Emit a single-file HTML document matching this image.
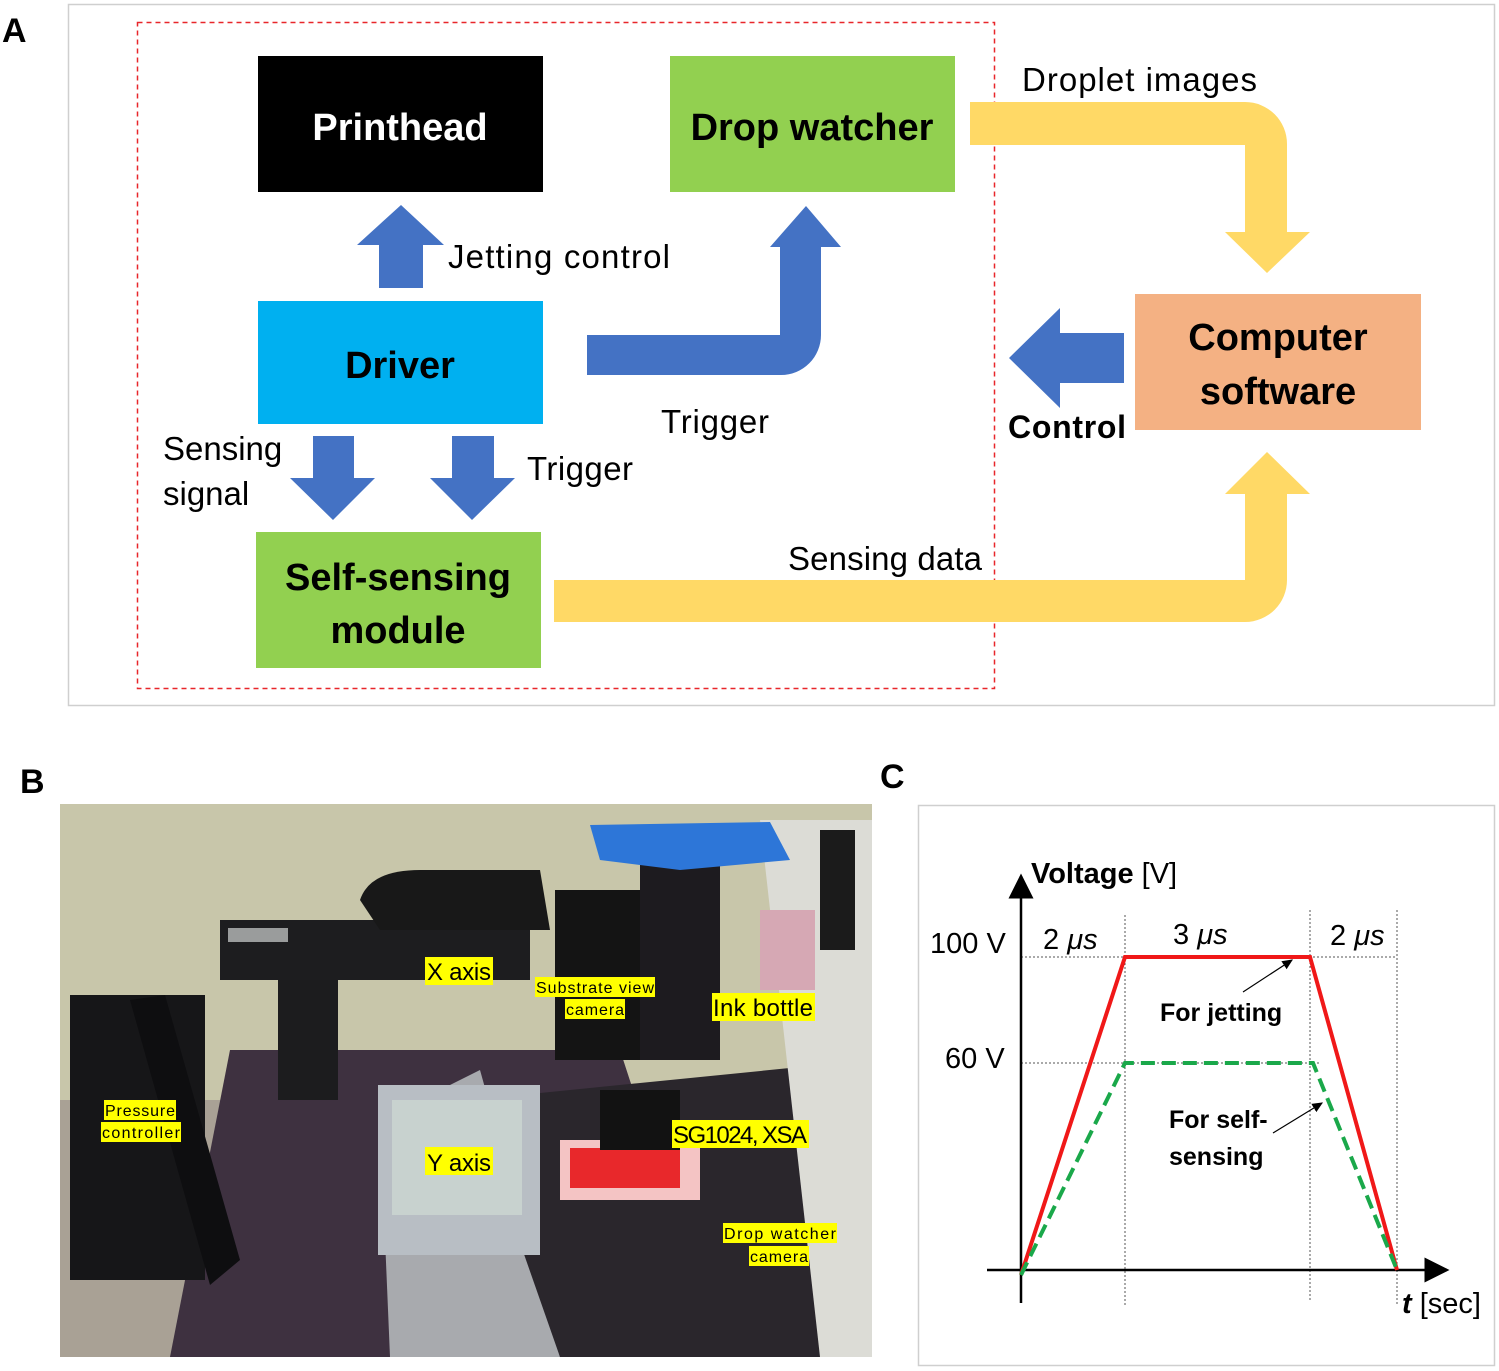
<!DOCTYPE html>
<html><head><meta charset="utf-8"><style>
html,body{margin:0;padding:0;background:#fff}
svg{display:block}
text{font-family:"Liberation Sans",sans-serif}
</style></head><body>
<svg width="1499" height="1371" viewBox="0 0 1499 1371" xmlns="http://www.w3.org/2000/svg">
<defs>
<marker id="ah" markerWidth="10" markerHeight="10" refX="8" refY="5" orient="auto"><path d="M0,1 L9,5 L0,9 z" fill="#000"/></marker>
<marker id="ah2" markerWidth="10" markerHeight="10" refX="9" refY="5" orient="auto"><path d="M0,0 L10,5 L0,10 z" fill="#000"/></marker>
</defs>
<text x="2" y="42" font-size="34" font-weight="bold">A</text>
<rect x="68.5" y="4.5" width="1426" height="701" fill="#fff" stroke="#cfcfcf" stroke-width="1.5"/>
<rect x="137.5" y="22.5" width="857" height="666" fill="none" stroke="#e8262a" stroke-width="1.5" stroke-dasharray="5,4"/>

<path d="M970,102 H1245 A42,42 0 0 1 1287,144 V232 H1310 L1267,273 L1225,232 H1245 V145 H970 Z" fill="#ffd966"/>
<path d="M554,580 H1245 V494 H1225 L1267,452 L1310,494 H1287 V580 A42,42 0 0 1 1245,622 H554 Z" fill="#ffd966"/>

<rect x="258" y="56" width="285" height="136" fill="#000"/>
<text x="400" y="140" font-size="38" font-weight="bold" fill="#fff" text-anchor="middle">Printhead</text>
<rect x="670" y="56" width="285" height="136" fill="#92d050"/>
<text x="812" y="140" font-size="38" font-weight="bold" text-anchor="middle">Drop watcher</text>
<rect x="258" y="301" width="285" height="123" fill="#00b0f0"/>
<text x="400" y="378" font-size="38" font-weight="bold" text-anchor="middle">Driver</text>
<rect x="256" y="532" width="285" height="136" fill="#92d050"/>
<text x="398" y="590" font-size="38" font-weight="bold" text-anchor="middle">Self-sensing</text>
<text x="398" y="643" font-size="38" font-weight="bold" text-anchor="middle">module</text>
<rect x="1135" y="294" width="286" height="136" fill="#f4b183"/>
<text x="1278" y="350" font-size="38" font-weight="bold" text-anchor="middle">Computer</text>
<text x="1278" y="404" font-size="38" font-weight="bold" text-anchor="middle">software</text>

<path d="M379,288 V245 H357 L401,205 L444,245 H423 V288 Z" fill="#4472c4"/>
<path d="M587,335 H780 V247 H770 L806,206 L841,247 H821 V335 A40,40 0 0 1 781,375 H587 Z" fill="#4472c4"/>
<path d="M313,436 H354 V478 H375 L333,520 L290,478 H313 Z" fill="#4472c4"/>
<path d="M452,436 H494 V478 H515 L472,520 L430,478 H452 Z" fill="#4472c4"/>
<path d="M1124,333 V383 H1060 V408 L1009,358 L1060,308 V333 Z" fill="#4472c4"/>

<text x="448" y="268" font-size="33" textLength="222">Jetting control</text>
<text x="661" y="433" font-size="33" textLength="108">Trigger</text>
<text x="527" y="480" font-size="33" textLength="106">Trigger</text>
<text x="163" y="460" font-size="33">Sensing</text>
<text x="163" y="505" font-size="33">signal</text>
<text x="1022" y="91" font-size="33" textLength="235">Droplet images</text>
<text x="788" y="570" font-size="33" textLength="194">Sensing data</text>
<text x="1008" y="438" font-size="32" font-weight="bold" textLength="118">Control</text>

<text x="20" y="793" font-size="34" font-weight="bold">B</text>
<rect x="60" y="804" width="812" height="553" fill="#c8c6aa"/>
<path d="M60,1100 L380,1100 L400,1357 L60,1357 Z" fill="#a9a195"/>
<path d="M230,1050 L620,1050 L720,1357 L170,1357 Z" fill="#3e3140"/>
<path d="M380,1120 L480,1070 L560,1357 L390,1357 Z" fill="#a8aaae"/>
<path d="M470,1100 L870,1060 L872,1357 L560,1357 Z" fill="#2a262c"/>
<path d="M760,820 L872,820 L872,1357 L820,1357 Z" fill="#dcdcd6"/>
<rect x="378" y="1085" width="162" height="170" fill="#b8bec4"/>
<rect x="392" y="1100" width="130" height="115" fill="#c8d2cf"/>
<rect x="220" y="920" width="310" height="60" fill="#1d1d1f"/>
<rect x="228" y="928" width="60" height="14" fill="#9a9c9c"/>
<rect x="278" y="980" width="60" height="120" fill="#1c1c1e"/>
<path d="M360,900 Q370,870 420,870 L540,870 L550,930 L380,930 Z" fill="#181818"/>
<rect x="70" y="995" width="135" height="285" fill="#161618"/>
<path d="M130,1000 L165,995 L240,1260 L210,1285 Z" fill="#0e0e10"/>
<rect x="555" y="890" width="160" height="170" fill="#141414"/>
<rect x="640" y="860" width="80" height="200" fill="#1d1b1f"/>
<path d="M590,825 L770,822 L790,860 L680,870 L600,860 Z" fill="#2d76d8"/>
<rect x="560" y="1140" width="140" height="60" fill="#f4c4c4"/>
<rect x="570" y="1148" width="110" height="40" fill="#e8282b"/>
<rect x="600" y="1090" width="80" height="60" fill="#121212"/>
<rect x="760" y="910" width="55" height="80" fill="#d6a8b4"/>
<rect x="820" y="830" width="35" height="120" fill="#1b1b1b"/>
<g font-size="24">
<rect x="425" y="957" width="68" height="28" fill="#ffff00"/><text x="427" y="980" textLength="64">X axis</text>
<rect x="425" y="1147" width="68" height="28" fill="#ffff00"/><text x="427" y="1171" textLength="64">Y axis</text>
<rect x="712" y="993" width="103" height="28" fill="#ffff00"/><text x="713" y="1016" textLength="100">Ink bottle</text>
<rect x="672" y="1120" width="137" height="28" fill="#ffff00"/><text x="673" y="1143" textLength="134">SG1024, XSA</text>
</g>
<g font-size="16">
<rect x="535" y="977" width="120" height="20" fill="#ffff00"/><text x="536" y="993" textLength="118">Substrate view</text>
<rect x="565" y="999" width="60" height="20" fill="#ffff00"/><text x="566" y="1015" textLength="58">camera</text>
<rect x="104" y="1100" width="72" height="20" fill="#ffff00"/><text x="105" y="1116" textLength="70">Pressure</text>
<rect x="101" y="1122" width="80" height="20" fill="#ffff00"/><text x="102" y="1138" textLength="78">controller</text>
<rect x="723" y="1223" width="114" height="20" fill="#ffff00"/><text x="724" y="1239" textLength="112">Drop watcher</text>
<rect x="749" y="1246" width="60" height="20" fill="#ffff00"/><text x="750" y="1262" textLength="58">camera</text>
</g>

<text x="880" y="788" font-size="34" font-weight="bold">C</text>
<rect x="918.5" y="805.5" width="576" height="560" fill="#fff" stroke="#cfcfcf" stroke-width="1.5"/>
<g stroke="#555" stroke-width="1" stroke-dasharray="2,2" fill="none">
<line x1="1125" y1="915" x2="1125" y2="1305"/>
<line x1="1310" y1="910" x2="1310" y2="1300"/>
<line x1="1397" y1="910" x2="1397" y2="1305"/>
<line x1="1021" y1="957" x2="1397" y2="957"/>
<line x1="1021" y1="1063" x2="1320" y2="1063"/>
</g>
<line x1="1021" y1="1303" x2="1021" y2="876" stroke="#000" stroke-width="2.5" marker-end="url(#ah2)"/>
<line x1="987" y1="1270" x2="1447" y2="1270" stroke="#000" stroke-width="2.5" marker-end="url(#ah2)"/>
<polyline points="1021,1275 1125,957 1310,957 1397,1270" fill="none" stroke="#f01818" stroke-width="4"/>
<polyline points="1021,1275 1125,1063 1313,1063 1397,1270" fill="none" stroke="#1aa84a" stroke-width="4" stroke-dasharray="14,7"/>
<line x1="1243" y1="992" x2="1292" y2="960" stroke="#000" stroke-width="1.2" marker-end="url(#ah)"/>
<line x1="1273" y1="1133" x2="1322" y2="1103" stroke="#000" stroke-width="1.2" marker-end="url(#ah)"/>
<text x="1031" y="883" font-size="29"><tspan font-weight="bold">Voltage</tspan> [V]</text>
<text x="930" y="953" font-size="29">100 V</text>
<text x="945" y="1068" font-size="29">60 V</text>
<text x="1043" y="949" font-size="29" font-family="Liberation Serif">2 <tspan font-style="italic">μs</tspan></text>
<text x="1173" y="944" font-size="29" font-family="Liberation Serif">3 <tspan font-style="italic">μs</tspan></text>
<text x="1330" y="945" font-size="29" font-family="Liberation Serif">2 <tspan font-style="italic">μs</tspan></text>
<text x="1160" y="1021" font-size="25" font-weight="bold">For jetting</text>
<text x="1169" y="1128" font-size="25" font-weight="bold">For self-</text>
<text x="1169" y="1165" font-size="25" font-weight="bold">sensing</text>
<text x="1402" y="1313" font-size="29"><tspan font-weight="bold" font-style="italic">t</tspan> [sec]</text>
</svg>
</body></html>
